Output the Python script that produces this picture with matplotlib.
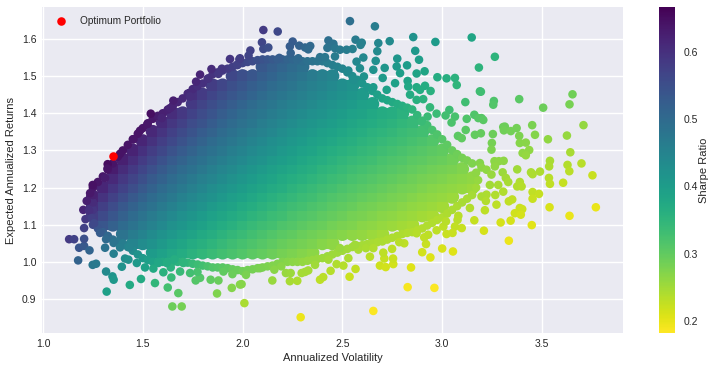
import matplotlib
matplotlib.use('Agg')
import matplotlib.pyplot as plt
import numpy as np

# points around the edge of the cloud
edge_vol = [1.937,1.984,1.971,1.896,1.844,1.787,1.767,1.653,1.54,1.486,1.453,1.324,1.323,1.311,1.249,1.386,1.523,1.595,1.637,1.737,1.829,1.879,
    2.104,2.176,2.097,2.104,2.129,2.039,2.03,1.987,2.251,2.237,2.284,2.313,2.339,2.329,2.241,2.43,2.455,2.425,2.463,2.488,2.521,2.551,
    2.538,2.663,2.566,2.597,2.591,2.68,2.737,2.675,2.855,2.966,3.148,2.865,2.884,2.775,2.824,2.712,2.667,2.605,2.571,2.463,
    2.872,2.912,2.976,3.022,3.064,3.073,3.184,3.189,3.116,3.123,3.161,3.181,3.118,3.164,3.079,3.098,3.036,3.017,3.064,2.972,3.047,
    2.942,2.914,2.872,2.889,2.827,2.83,2.702,2.608,2.555,2.772,2.789,2.764,2.722,2.655,2.655,2.839,2.872,2.905,2.939,2.927,2.897,2.588,2.53,2.388,2.413,2.279,2.184,
    3.264,3.194,3.259,3.256,3.386,3.506,3.653,3.638,3.708,3.197,3.206,3.306,3.314,3.309,3.344,3.373,3.451,3.194,3.254,3.386,3.465,3.53,3.625,3.389,3.419,3.249,3.247,3.436,3.403,3.419,3.642,
    3.54,3.536,3.628,3.698,3.637,3.753,3.262,3.284,3.308,3.189,3.197,3.222,3.264,3.247,3.303,3.376,3.445,3.453,3.49,3.535,3.319,3.331,3.389,3.54,3.606,
    3.239,3.281,3.376,3.398,3.453,3.485,3.453,3.306,3.266,3.222,3.197,3.219,3.351,3.334,3.272,3.538,3.77,3.214,3.389,3.401,3.364,3.394,3.638,3.343,3.293,3.449,3.209,3.334,
    2.009,2.291,2.655,2.827,2.961,2.149,1.995,2.237,2.274,2.388,2.404,2.536,2.566,2.441,2.159,2.217,2.241,2.296,2.329,2.194,2.087,2.017,2.688,2.717,2.755,2.844,2.754,2.71,2.705,2.638,2.749,2.941,2.9,3.0,3.054,2.919,2.81,2.785,
    3.161,3.139,3.081,3.077,3.098,3.064,3.052,3.022,2.972,3.006,3.019,2.91,2.93,2.872,2.471,2.505,2.53,2.363,2.43,2.313,2.58,2.618,2.655,2.563,2.488,
    1.131,1.156,1.176,1.181,1.206,1.233,1.206,1.206,1.213,1.202,1.231,1.219,1.236,1.244,1.256,1.286,1.249,1.266,1.311,1.316,1.354,1.354,1.386,1.433,1.319,1.316,1.348,1.354,1.435,1.395,1.411,1.428,
    1.491,1.561,1.625,1.678,1.648,1.695,1.872,1.946,1.949,1.879,1.84,1.765,1.787,1.774,1.737,1.687,1.643,1.603,1.64,1.62,1.578,1.553,1.511,1.47,1.658,1.703,1.904,1.987]
edge_ret = [1.546,1.545,1.53,1.52,1.519,1.504,1.485,1.434,1.399,1.353,1.33,1.263,1.251,1.226,1.207,1.291,1.371,1.387,1.414,1.445,1.494,1.506,
    1.624,1.62,1.591,1.573,1.577,1.569,1.555,1.548,1.593,1.58,1.582,1.577,1.581,1.572,1.562,1.596,1.587,1.576,1.575,1.571,1.571,1.573,
    1.648,1.634,1.598,1.59,1.584,1.589,1.594,1.567,1.605,1.592,1.604,1.568,1.544,1.547,1.529,1.522,1.541,1.55,1.539,1.553,
    1.507,1.513,1.497,1.494,1.495,1.476,1.523,1.459,1.43,1.385,1.396,1.387,1.355,1.342,1.339,1.333,1.409,1.394,1.391,1.399,1.375,
    1.46,1.474,1.47,1.463,1.487,1.472,1.495,1.499,1.49,1.526,1.508,1.481,1.463,1.47,1.517,1.45,1.436,1.438,1.416,1.391,1.378,1.521,1.515,1.551,1.551,1.548,1.549,
    1.552,1.458,1.433,1.423,1.438,1.415,1.451,1.424,1.368,1.387,1.382,1.363,1.364,1.354,1.352,1.36,1.368,1.346,1.344,1.339,1.342,1.33,1.34,1.32,1.321,1.32,1.302,1.301,1.293,1.287,1.295,
    1.272,1.257,1.261,1.265,1.244,1.233,1.271,1.271,1.272,1.266,1.254,1.248,1.257,1.235,1.241,1.249,1.241,1.236,1.243,1.226,1.226,1.215,1.215,1.21,1.213,
    1.207,1.207,1.203,1.203,1.188,1.183,1.17,1.189,1.18,1.181,1.176,1.164,1.168,1.163,1.154,1.147,1.147,1.139,1.145,1.142,1.131,1.127,1.124,1.111,1.106,1.099,1.084,1.057,
    0.889,0.851,0.868,0.932,0.93,0.95,0.94,0.948,0.949,0.952,0.959,0.96,0.981,0.976,0.979,0.97,0.97,0.97,0.977,0.988,0.983,0.965,0.99,0.986,0.994,0.985,1.009,1.009,1.025,1.014,1.035,1.012,1.026,1.036,1.028,1.048,1.05,1.053,
    1.112,1.145,1.124,1.113,1.091,1.095,1.078,1.075,1.085,1.095,1.109,1.066,1.073,1.077,0.994,0.99,1.01,0.992,1.006,0.973,1.033,1.037,1.037,1.046,1.037,
    1.061,1.061,1.004,1.038,1.043,1.031,1.062,1.091,1.115,1.14,1.138,1.164,1.185,1.118,1.104,1.078,0.992,0.995,1.038,1.061,1.022,1.051,1.039,1.039,0.92,0.974,0.961,0.952,0.938,0.987,1.009,1.006,
    0.954,0.943,0.931,0.916,0.88,0.88,0.915,0.93,0.967,0.95,0.952,0.95,0.957,0.973,0.97,0.974,0.958,0.972,0.985,0.997,0.997,0.982,0.985,0.997,1.007,0.997,0.974,0.939]
edge_sharpe = [.592,.577,.573,.591,.607,.618,.614,.626,.649,.641,.64,.652,.643,.63,.646,.643,.638,.619,.619,.602,.598,.589,
    .582,.561,.568,.558,.553,.573,.569,.578,.53,.527,.518,.509,.505,.503,.519,.492,.484,.485,.477,.471,.465,.46,
    .492,.463,.467,.458,.457,.444,.436,.436,.422,.402,.382,.408,.397,.413,.4,.414,.428,.441,.443,.468,
    .385,.382,.369,.362,.357,.35,.353,.332,.331,.315,.315,.31,.306,.298,.305,.301,.332,.329,.323,.336,.32,
    .36,.369,.373,.368,.385,.379,.405,.421,.427,.406,.397,.391,.391,.403,.421,.37,.361,.357,.346,.339,.338,.433,.441,.482,.477,.504,.526,
    .353,.331,.317,.314,.307,.29,.288,.281,.261,.309,.306,.291,.291,.288,.285,.285,.28,.296,.29,.277,.272,.263,.259,.271,.269,.283,.278,.262,.262,.259,.246,
    .246,.242,.237,.234,.232,.222,.267,.265,.264,.272,.267,.263,.263,.257,.255,.251,.244,.242,.242,.234,.249,.245,.24,.229,.225,
    .249,.246,.238,.236,.228,.225,.223,.239,.239,.242,.243,.237,.229,.229,.23,.211,.198,.23,.22,.218,.217,.214,.199,.213,.214,.203,.213,.197,
    .243,.197,.185,.188,.185,.256,.271,.245,.241,.231,.233,.221,.226,.236,.268,.257,.254,.248,.248,.268,.279,.28,.219,.216,.216,.206,.221,.225,.231,.233,.231,.208,.216,.212,.206,.222,.231,.234,
    .225,.237,.235,.232,.223,.227,.222,.223,.23,.231,.235,.229,.23,.236,.24,.236,.241,.251,.249,.248,.245,.243,.24,.252,.256,
    .584,.572,.514,.54,.533,.512,.549,.573,.589,.616,.6,.627,.635,.577,.561,.527,.474,.47,.487,.502,.459,.481,.461,.446,.394,.436,.416,.408,.375,.421,.432,.424,
    .372,.348,.327,.308,.291,.283,.275,.272,.291,.293,.3,.312,.312,.323,.328,.34,.34,.357,.357,.369,.378,.375,.387,.406,.366,.351,.301,.271]

# rim of the dense part, upper side then lower side then left and right ends
rim_vol = [1.25,1.275,1.3,1.325,1.35,1.375,1.4,1.425,1.45,1.475,1.5,1.525,1.55,1.575,1.6,1.625,1.65,1.675,1.7,1.725,1.75,1.775,1.8,1.825,1.85,1.875,1.9,1.925,1.95,1.975,
    2.0,2.025,2.05,2.075,2.1,2.125,2.15,2.175,2.2,2.225,2.25,2.275,2.3,2.325,2.35,2.375,2.4,2.425,2.45,2.475,2.5,2.525,2.55,2.575,2.6,2.625,2.65,2.675,2.7,2.725,
    2.75,2.775,2.8,2.825,2.85,2.875,2.9,2.925,2.95,2.975,3.0,3.025,3.05,3.075,3.1,3.125,3.15,
    1.25,1.275,1.3,1.325,1.35,1.375,1.4,1.425,1.45,1.475,1.5,1.525,1.55,1.575,1.6,1.625,1.65,1.675,1.7,1.725,1.75,1.775,1.8,1.825,1.85,1.875,1.9,1.925,1.95,1.975,
    2.0,2.025,2.05,2.075,2.1,2.125,2.15,2.175,2.2,2.225,2.25,2.275,2.3,2.325,2.35,2.375,2.4,2.425,2.45,2.475,2.5,2.525,2.55,2.575,2.6,2.625,2.65,2.675,2.7,2.725,
    2.75,2.775,2.8,2.825,2.85,2.875,2.9,2.925,2.95,2.975,3.0,3.025,3.05,3.075,3.1,3.125,3.15,
    1.24,1.25,1.25,1.25,3.17,3.18,3.17]
rim_ret = [1.2,1.215,1.23,1.248,1.265,1.283,1.3,1.315,1.33,1.345,1.36,1.373,1.385,1.393,1.4,1.41,1.42,1.43,1.44,1.453,1.465,1.473,1.48,1.493,1.505,1.51,1.515,1.52,1.525,1.53,
    1.535,1.538,1.54,1.543,1.545,1.545,1.545,1.545,1.545,1.545,1.545,1.543,1.54,1.54,1.54,1.54,1.54,1.535,1.53,1.525,1.52,1.51,1.5,1.49,1.48,1.47,1.46,1.45,1.44,1.435,
    1.43,1.425,1.42,1.415,1.41,1.395,1.38,1.368,1.355,1.343,1.33,1.315,1.3,1.29,1.28,1.273,1.265,
    1.1,1.09,1.08,1.07,1.06,1.055,1.05,1.04,1.03,1.02,1.01,1.005,1.0,1.0,1.0,1.0,1.0,1.0,1.0,0.998,0.995,0.993,0.99,0.988,0.985,0.985,0.985,0.983,0.98,0.978,
    0.975,0.978,0.98,0.983,0.985,0.988,0.99,0.995,1.0,1.0,1.0,1.0,1.0,1.003,1.005,1.008,1.01,1.015,1.02,1.025,1.03,1.035,1.04,1.043,1.045,1.048,1.05,1.053,1.055,1.06,
    1.065,1.07,1.075,1.078,1.08,1.085,1.09,1.098,1.105,1.113,1.12,1.13,1.14,1.15,1.16,1.17,1.18,
    1.12,1.14,1.16,1.18,1.2,1.22,1.24]
rim_sharpe = [.64,.639,.638,.64,.641,.642,.643,.642,.641,.641,.64,.638,.635,.63,.625,.622,.618,.615,.612,.61,.609,.604,.6,.599,.597,.592,.587,.582,.577,.572,
    .568,.562,.556,.551,.545,.539,.533,.526,.52,.515,.509,.502,.496,.49,.485,.48,.475,.468,.461,.455,.448,.44,.431,.423,.415,.408,.4,.393,.385,.38,
    .375,.369,.364,.359,.354,.346,.338,.331,.324,.317,.31,.302,.295,.289,.284,.279,.275,
    .56,.541,.523,.506,.489,.476,.464,.449,.434,.42,.407,.397,.387,.381,.375,.369,.364,.358,.353,.347,.34,.334,.328,.322,.316,.312,.308,.303,.297,.293,
    .288,.285,.283,.281,.279,.277,.274,.274,.273,.27,.267,.264,.261,.259,.257,.256,.254,.254,.253,.253,.252,.251,.251,.25,.248,.247,.245,.244,.243,.242,
    .242,.241,.241,.24,.239,.238,.238,.239,.239,.24,.24,.241,.243,.244,.245,.246,.248,
    .581,.592,.608,.624,.252,.258,.265]

# dense middle of the cloud: one row of sharpe values per return level
vol_grid = [1.25,1.3,1.35,1.4,1.45,1.5,1.55,1.6,1.65,1.7,1.75,1.8,1.85,1.9,1.95,2.0,2.05,2.1,2.15,2.2,
    2.25,2.3,2.35,2.4,2.45,2.5,2.55,2.6,2.65,2.7,2.75,2.8,2.85,2.9,2.95,3.0,3.05,3.1,3.15]
ret_grid = [1.025,1.05,1.075,1.1,1.125,1.15,1.175,1.2,1.225,1.25,1.275,1.3,1.325,1.35,1.375,1.4,1.425,1.45,1.475,1.5,1.525]
first_col = [6,4,3,1,0,0,0,1,2,2,3,4,5,6,7,8,10,10,12,14,17]
sharpe_rows = [
    [.403,.391,.379,.368,.357,.347,.338,.329,.321,.313,.305,.298,.291,.284,.278,.272,.266],
    [.448,.433,.419,.406,.394,.382,.371,.361,.351,.342,.333,.325,.317,.31,.302,.295,.289,.283,.277,.271,.265],
    [.482,.466,.45,.435,.422,.409,.397,.386,.375,.365,.355,.346,.338,.329,.321,.314,.307,.3,.293,.287,.281,.276,.27,.265,.26,.255,.25],
    [.538,.519,.5,.483,.467,.452,.438,.424,.412,.4,.389,.378,.368,.359,.35,.341,.333,.326,.318,.311,.304,.298,.292,.286,.28,.275,.269,.264,.259,.255,.25,.246],
    [.58,.558,.537,.518,.5,.483,.468,.453,.439,.426,.414,.403,.392,.382,.372,.363,.354,.345,.337,.33,.322,.315,.309,.302,.296,.29,.284,.279,.274,.269,.264,.259,.254,.25,.246],
    [.6,.577,.556,.536,.517,.5,.484,.469,.455,.441,.429,.417,.405,.395,.385,.375,.366,.357,.349,.341,.333,.326,.319,.313,.306,.3,.294,.288,.283,.278,.273,.268,.263,.259,.254,.25],
    [.62,.596,.574,.554,.534,.517,.5,.484,.47,.456,.443,.431,.419,.408,.397,.388,.378,.369,.36,.352,.344,.337,.33,.323,.316,.31,.304,.298,.292,.287,.282,.277,.272,.267,.263,.258,.254],
    [.615,.593,.571,.552,.533,.516,.5,.485,.471,.457,.444,.432,.421,.41,.4,.39,.381,.372,.364,.356,.348,.34,.333,.327,.32,.314,.308,.302,.296,.291,.286,.281,.276,.271,.267,.262,.258,.254],
    [.611,.589,.569,.55,.532,.516,.5,.485,.471,.458,.446,.434,.423,.412,.402,.393,.384,.375,.367,.359,.351,.344,.337,.33,.324,.317,.311,.306,.3,.295,.289,.284,.28,.275,.27,.266,.262],
    [.63,.607,.586,.567,.548,.531,.515,.5,.486,.472,.459,.447,.436,.425,.415,.405,.395,.386,.378,.37,.362,.354,.347,.34,.333,.327,.321,.315,.309,.304,.298,.293,.288,.283,.279,.274],
    [.625,.603,.583,.565,.547,.53,.515,.5,.486,.473,.461,.449,.438,.427,.417,.407,.398,.389,.38,.372,.365,.357,.35,.343,.337,.33,.324,.318,.313,.307,.302,.297,.292,.287],
    [.621,.6,.581,.563,.545,.529,.514,.5,.486,.474,.462,.45,.439,.429,.419,.409,.4,.391,.383,.375,.367,.36,.353,.346,.34,.333,.327,.321,.316,.31,.305,.3],
    [.617,.597,.578,.561,.544,.529,.514,.5,.487,.474,.463,.451,.44,.43,.42,.411,.402,.394,.385,.378,.37,.363,.356,.349,.343,.336,.33,.325,.319,.314],
    [.613,.594,.576,.559,.543,.528,.514,.5,.487,.475,.463,.452,.442,.432,.422,.413,.404,.396,.388,.38,.373,.365,.358,.352,.345,.339,.333,.328],
    [.609,.591,.574,.557,.542,.527,.513,.5,.488,.476,.464,.453,.443,.433,.424,.415,.406,.398,.39,.382,.375,.368,.361,.355,.348,.342],
    [.606,.588,.571,.556,.541,.526,.513,.5,.488,.476,.465,.455,.444,.435,.426,.417,.408,.4,.392,.385,.377,.37,.364,.357],
    [.586,.569,.554,.539,.526,.513,.5,.488,.477,.466,.456,.446,.436,.427,.418,.41,.402,.394,.387],
    [.6,.583,.568,.553,.538,.525,.512,.5,.488,.477,.467,.457,.447,.438,.429,.42,.412,.404],
    [.581,.566,.551,.538,.524,.512,.5,.489,.478,.467,.457,.448,.439,.43,.422],
    [.564,.55,.537,.524,.512,.5,.489,.478,.468,.458,.449],
    [.536,.523,.511,.5,.489],
]

opt_vol = [1.353]
opt_ret = [1.284]

plt.style.use('seaborn-v0_8')
plt.rcParams['font.family'] = ['Liberation Sans', 'DejaVu Sans']

W, H = 717, 370
fig = plt.figure(figsize=(W / 100, H / 100), dpi=100)
ax = fig.add_axes([42 / W, 1 - 333 / H, (623 - 42) / W, (333 - 7) / H])
cax = fig.add_axes([659 / W, 1 - 333 / H, 16 / W, (333 - 7) / H])

vmin, vmax = 0.182, 0.667
for r, first, row in zip(ret_grid, first_col, sharpe_rows):
    xs = vol_grid[first:first + len(row)]
    # round dabs close the gaps towards the rim, squares keep the inside smooth
    ax.scatter(xs, [r] * len(xs), c=row, s=100, cmap='viridis_r', vmin=vmin, vmax=vmax, linewidths=0, zorder=2)
for r, first, row in zip(ret_grid, first_col, sharpe_rows):
    xs = vol_grid[first:first + len(row)]
    ax.scatter(xs, [r] * len(xs), c=row, s=58, marker='s', cmap='viridis_r', vmin=vmin, vmax=vmax, linewidths=0, zorder=2.5)
ax.scatter(rim_vol, rim_ret, c=rim_sharpe, s=38, cmap='viridis_r', vmin=vmin, vmax=vmax, linewidths=0, zorder=3)
sc = ax.scatter(edge_vol, edge_ret, c=edge_sharpe, s=38, cmap='viridis_r', vmin=vmin, vmax=vmax, linewidths=0, zorder=4)
ax.scatter(opt_vol, opt_ret, c='red', s=38, linewidths=0, label='Optimum Portfolio', zorder=5)

ax.set_xlim(0.995, 3.906)
ax.set_ylim(0.8086, 1.686)
ax.set_xticks([1.0, 1.5, 2.0, 2.5, 3.0, 3.5])
ax.set_yticks([0.9, 1.0, 1.1, 1.2, 1.3, 1.4, 1.5, 1.6])
ax.tick_params(labelsize=7.5, pad=4)
ax.set_xlabel('Annualized Volatility', fontsize=8, labelpad=3)
ax.set_ylabel('Expected Annualized Returns', fontsize=8, labelpad=4)
ax.legend(loc='upper left', fontsize=7.3, frameon=False, borderaxespad=0.5, labelspacing=0.5, handletextpad=0.8)

cb = fig.colorbar(sc, cax=cax)
cb.outline.set_visible(False)
cb.set_ticks([0.2, 0.3, 0.4, 0.5, 0.6])
cb.ax.tick_params(labelsize=7.5, length=0, pad=6)
cb.set_label('Sharpe Ratio', fontsize=8, labelpad=1)

fig.savefig('out.png', dpi=100)
